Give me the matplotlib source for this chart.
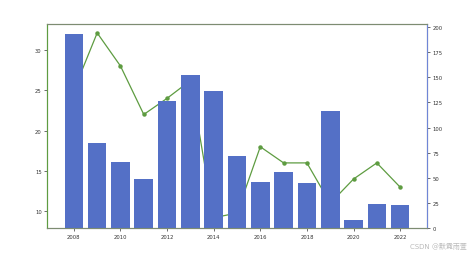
import matplotlib
matplotlib.use("Agg")
import matplotlib.pyplot as plt

plt.rcParams['font.family'] = ['DejaVu Sans', 'Noto Sans CJK SC']

# Data
years = [2008, 2009, 2010, 2011, 2012, 2013, 2014, 2015,
         2016, 2017, 2018, 2019, 2020, 2021, 2022]
line_vals = [25, 32.1, 28, 22, 24, 26.2, 9.2, 9.8,
             18, 16, 16, 11, 14, 16, 13]
bar_vals = [193, 85, 66, 48.6, 126, 152, 136, 72,
            45.6, 55.6, 44.6, 116, 8, 24.4, 23.4]
x_ticks = [2008, 2010, 2012, 2014, 2016, 2018, 2020, 2022]
left_ticks = [10, 15, 20, 25, 30]
right_ticks = [0, 25, 50, 75, 100, 125, 150, 175, 200]

green = "#5e9c41"
blue = "#5470c6"

fig = plt.figure(figsize=(4.74, 2.55), dpi=100)
ax1 = fig.add_axes([0.0998, 0.1008, 0.8004, 0.801])

# Line (left axis)
ax1.plot(years, line_vals, color=green, marker="o",
         markersize=2.2, linewidth=0.9)
ax1.set_ylim(7.9, 33.2)
ax1.set_yticks(left_ticks)

# Bars (right axis, drawn on top)
ax2 = ax1.twinx()
ax2.bar(years, bar_vals, width=0.8, color=blue)
ax2.set_yticks(right_ticks)
ax1.set_xticks(x_ticks)

for ax in (ax1, ax2):
    ax.tick_params(labelsize=3.8, length=2, width=0.5, pad=2,
                   colors="#333333")
    for s in ax.spines.values():
        s.set_linewidth(0.8)
        s.set_color("#777777")

ax2.spines["left"].set_color(green)
ax1.spines["left"].set_color(green)
ax2.spines["right"].set_color("#6f86d6")
ax2.spines["top"].set_color("#7d8c72")
ax2.spines["bottom"].set_color("#7d8c72")

fig.text(0.985, 0.02, "CSDN @默霓雨萱", fontsize=5, color="#bbbbbb",
         ha="right", va="bottom")

fig.savefig("out.png", dpi=100)
